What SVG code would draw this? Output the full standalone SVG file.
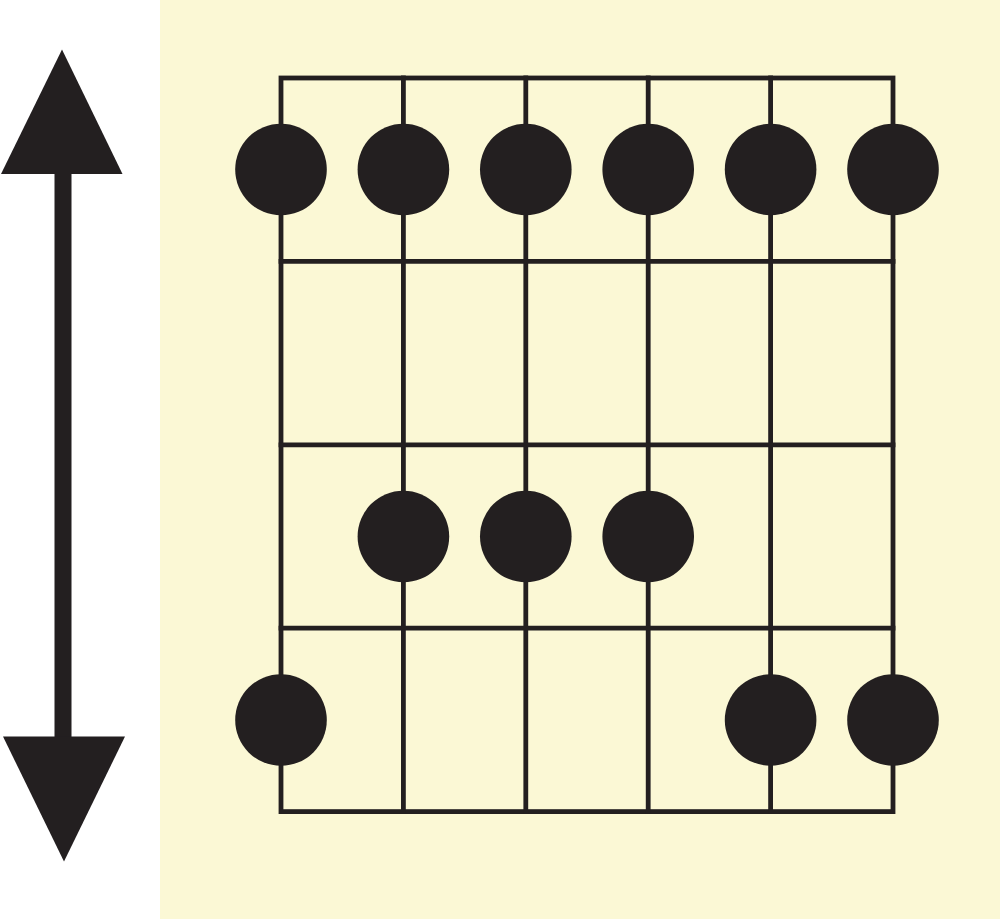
<svg xmlns="http://www.w3.org/2000/svg" width="1000" height="919" viewBox="0 0 1000 919">
<style>
.bg{fill:#FBF8D5}
.ln{stroke:#231F20;stroke-width:4.8;fill:none;stroke-linecap:square}
.dot{fill:#231F20}
.arr{fill:#231F20}
</style>
<rect x="0" y="0" width="1000" height="919" fill="#FFFFFF"/>
<rect class="bg" x="160" y="0" width="840" height="919"/>
<g id="arrow">
<rect class="arr" x="54.5" y="170" width="17" height="570"/>
<polygon class="arr" points="62,49.5 122.5,174 1,174"/>
<polygon class="arr" points="3,736.5 125,736.5 64,861.5"/>
</g>
<g id="grid">
<rect class="ln" x="281" y="78" width="612" height="733.6"/>
<line class="ln" x1="403.4" y1="78" x2="403.4" y2="811.6"/>
<line class="ln" x1="525.8" y1="78" x2="525.8" y2="811.6"/>
<line class="ln" x1="648.2" y1="78" x2="648.2" y2="811.6"/>
<line class="ln" x1="770.6" y1="78" x2="770.6" y2="811.6"/>
<line class="ln" x1="281" y1="261.4" x2="893" y2="261.4"/>
<line class="ln" x1="281" y1="444.8" x2="893" y2="444.8"/>
<line class="ln" x1="281" y1="628.2" x2="893" y2="628.2"/>
</g>
<g id="dots">
<circle class="dot" cx="281" cy="169.5" r="45.8"/>
<circle class="dot" cx="403.4" cy="169.5" r="45.8"/>
<circle class="dot" cx="525.8" cy="169.5" r="45.8"/>
<circle class="dot" cx="648.2" cy="169.5" r="45.8"/>
<circle class="dot" cx="770.6" cy="169.5" r="45.8"/>
<circle class="dot" cx="893" cy="169.5" r="45.8"/>
<circle class="dot" cx="403.4" cy="536.5" r="45.8"/>
<circle class="dot" cx="525.8" cy="536.5" r="45.8"/>
<circle class="dot" cx="648.2" cy="536.5" r="45.8"/>
<circle class="dot" cx="281" cy="720" r="45.8"/>
<circle class="dot" cx="770.6" cy="720" r="45.8"/>
<circle class="dot" cx="893" cy="720" r="45.8"/>
</g>
</svg>
